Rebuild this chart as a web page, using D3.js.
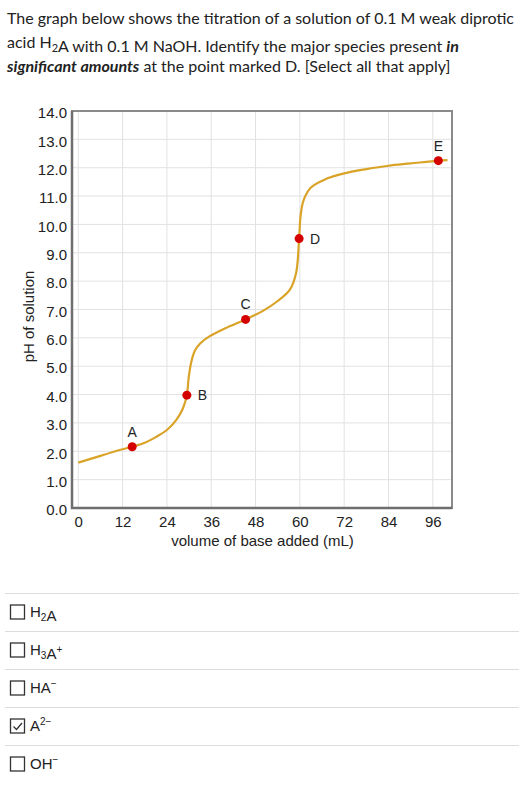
<!DOCTYPE html>
<html>
<head>
<meta charset="utf-8">
<script src="https://cdn.jsdelivr.net/npm/d3@7"></script>
<style>
  body { margin: 0; background: #fff; }
  svg { display: block; }
  .question { font-family: Lato, sans-serif; font-size: 16px; fill: #222; }
  .tick text { font-family: "Liberation Sans", Arial, sans-serif; font-size: 15px; fill: #222; }
  .axisLabel { font-family: "Liberation Sans", Arial, sans-serif; font-size: 15px; fill: #222; }
  .ptLabel { font-family: "Liberation Sans", Arial, sans-serif; font-size: 14px; fill: #222; }
  .option { font-family: "Liberation Sans", Arial, sans-serif; font-size: 15px; fill: #222; }
</style>
</head>
<body>
<div id="chart"></div>
<script>
// titration curve
let volumes = [0, 6, 12, 14.6, 18, 21, 24, 26.5, 28.3, 29.4, 29.9, 30.6, 31.6, 33, 35.5, 40, 45.3, 50, 54, 57.3, 59, 59.8, 60.2, 61, 63, 67, 72, 78, 84, 90, 97.5, 100];
let phValues = [1.6, 1.84, 2.07, 2.16, 2.3, 2.5, 2.75, 3.1, 3.5, 3.98, 4.6, 5.15, 5.55, 5.8, 6.05, 6.35, 6.65, 6.95, 7.3, 7.7, 8.3, 9.5, 10.3, 10.85, 11.3, 11.6, 11.8, 11.95, 12.07, 12.15, 12.25, 12.27];

// marked points
let pointNames = ['A', 'B', 'C', 'D', 'E'];
let pointVolumes = [14.6, 29.4, 45.3, 59.8, 97.5];
let pointPH = [2.16, 3.98, 6.65, 9.5, 12.25];

let xTicks = [0, 12, 24, 36, 48, 60, 72, 84, 96];
let yTicks = [0, 1, 2, 3, 4, 5, 6, 7, 8, 9, 10, 11, 12, 13, 14];

let questionLines = [
    [['The graph below shows the titration of a solution of 0.1 M weak diprotic', '']],
    [['acid H', ''], ['2', 'sub'], ['A with 0.1 M NaOH. Identify the major species present ', ''], ['in', 'bi']],
    [['significant amounts', 'bi'], [' at the point marked D. [Select all that apply]', '']]
];

let options = [
    [['H', ''], ['2', 'sub'], ['A', '']],
    [['H', ''], ['3', 'sub'], ['A', ''], ['+', 'sup']],
    [['HA', ''], ['\u2212', 'sup']],
    [['A', ''], ['2\u2212', 'sup']],
    [['OH', ''], ['\u2212', 'sup']]
];
let optionChecked = [false, false, false, true, false];

let W = 528, H = 787;
let plot = {left: 72, right: 452, top: 111, bottom: 508};

let svg = d3.select('#chart').append('svg')
    .attr('width', W)
    .attr('height', H);

//rich text with sub / sup / bold italic pieces
function richText(sel, parts, small){
    parts.forEach(p => {
        let t = sel.append('tspan').text(p[0]);
        if(p[1] == 'sub') t.attr('font-size', small).attr('dy', 4);
        if(p[1] == 'sup') t.attr('font-size', small).attr('dy', -6);
        if(p[1] == 'bi') t.attr('font-weight', 'bold').attr('font-style', 'italic');
        // reset baseline after a shifted piece
        if(p[1] == 'sub' || p[1] == 'sup'){
            sel.append('tspan').attr('dy', p[1] == 'sub' ? -4 : 6).text('');
        }
    });
}

// QUESTION
questionLines.forEach((line, i) => {
    let t = svg.append('text')
        .classed('question', true)
        .attr('x', 7)
        .attr('y', 24 + i * 24);
    richText(t, line, '11px');
});

// SCALES
let x = d3.scaleLinear()
    .domain([-1.7, 101.2])
    .range([plot.left, plot.right]);

let y = d3.scaleLinear()
    .domain([0, 14])
    .range([plot.bottom, plot.top]);

// GRID
let grid = svg.append('g');
grid.selectAll('.hGrid')
    .data(yTicks)
    .join('line')
    .attr('x1', plot.left).attr('x2', plot.right)
    .attr('y1', d => y(d)).attr('y2', d => y(d))
    .attr('stroke', '#e2e2e2')
    .attr('stroke-width', 1);
grid.selectAll('.vGrid')
    .data(xTicks)
    .join('line')
    .attr('y1', plot.top).attr('y2', plot.bottom)
    .attr('x1', d => x(d)).attr('x2', d => x(d))
    .attr('stroke', '#e2e2e2')
    .attr('stroke-width', 1);

// FRAME
svg.append('rect')
    .attr('x', plot.left)
    .attr('y', plot.top)
    .attr('width', plot.right - plot.left)
    .attr('height', plot.bottom - plot.top)
    .attr('fill', 'none')
    .attr('stroke', '#8a8a8a')
    .attr('stroke-width', 2);
svg.append('path')
    .attr('d', `M${plot.left},${plot.top}V${plot.bottom}H${plot.right}`)
    .attr('fill', 'none')
    .attr('stroke', '#6e6e6e')
    .attr('stroke-width', 2.5);

// AXES
let yAxis = svg.append('g')
    .attr('transform', `translate(${plot.left},0)`)
    .call(d3.axisLeft(y).tickValues(yTicks).tickSize(0).tickPadding(5).tickFormat(d3.format('.1f')));
yAxis.select('.domain').remove();
yAxis.selectAll('text').attr('dy', '0.45em');

let xAxis = svg.append('g')
    .attr('transform', `translate(0,${plot.bottom})`)
    .call(d3.axisBottom(x).tickValues(xTicks).tickSize(0).tickPadding(8.5));
xAxis.select('.domain').remove();

svg.append('text')
    .classed('axisLabel', true)
    .attr('x', 262.5)
    .attr('y', 546)
    .attr('text-anchor', 'middle')
    .text('volume of base added (mL)');

svg.append('text')
    .classed('axisLabel', true)
    .attr('transform', 'translate(34,316.5) rotate(-90)')
    .attr('text-anchor', 'middle')
    .text('pH of solution');

// CURVE
let curveData = volumes.map((v, i) => [v, phValues[i]]);
let line = d3.line()
    .x(d => x(d[0]))
    .y(d => y(d[1]))
    .curve(d3.curveCatmullRom.alpha(0.5));

svg.append('path')
    .datum(curveData)
    .attr('d', line)
    .attr('fill', 'none')
    .attr('stroke', '#d9a328')
    .attr('stroke-width', 2.2);

// POINTS
let rightLabels = ['B', 'D'];
let points = pointNames.map((n, i) => ({name: n, v: pointVolumes[i], ph: pointPH[i]}));

svg.selectAll('.pt')
    .data(points)
    .join('circle')
    .classed('pt', true)
    .attr('cx', d => x(d.v))
    .attr('cy', d => y(d.ph))
    .attr('r', 4.5)
    .attr('fill', '#d40000');

svg.selectAll('.ptLabel')
    .data(points)
    .join('text')
    .classed('ptLabel', true)
    .attr('x', d => rightLabels.includes(d.name) ? x(d.v) + 11 : x(d.v))
    .attr('y', d => rightLabels.includes(d.name) ? y(d.ph) + 5 : y(d.ph) - 10)
    .attr('text-anchor', d => rightLabels.includes(d.name) ? 'start' : 'middle')
    .text(d => d.name);

// OPTIONS
let rows = svg.append('g');
options.forEach((opt, i) => {
    let top = 593.5 + i * 38;
    rows.append('line')
        .attr('x1', 5).attr('x2', 519)
        .attr('y1', top).attr('y2', top)
        .attr('stroke', '#dcdcdc')
        .attr('stroke-width', 1.2);
    rows.append('rect')
        .attr('x', 10.5).attr('y', top + 11.5)
        .attr('width', 14).attr('height', 14)
        .attr('fill', '#fff')
        .attr('stroke', '#333')
        .attr('stroke-width', 1.3);
    if(optionChecked[i]){
        rows.append('path')
            .attr('d', `M${13.5},${top + 19} L${16.5},${top + 22} L${22},${top + 15.5}`)
            .attr('fill', 'none')
            .attr('stroke', '#333')
            .attr('stroke-width', 1.3);
    }
    let t = rows.append('text')
        .classed('option', true)
        .attr('x', 30)
        .attr('y', top + 23.5);
    richText(t, opt, '10px');
});
</script>
</body>
</html>
